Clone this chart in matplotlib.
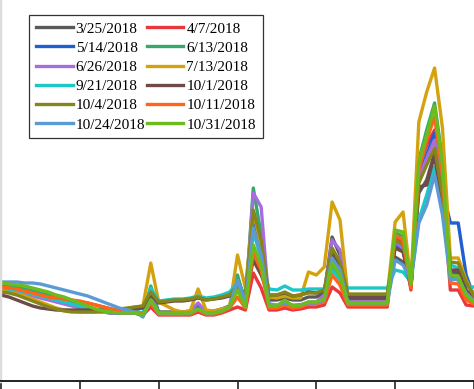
import matplotlib
matplotlib.use("Agg")
import matplotlib.pyplot as plt

# x positions (sample index), ticks every 10
x = list(range(61))

labels = ["3/25/2018", "4/7/2018", "5/14/2018", "6/13/2018", "6/26/2018", "7/13/2018",
          "9/21/2018", "10/1/2018", "10/4/2018", "10/11/2018", "10/24/2018", "10/31/2018"]

colors = ["#595959", "#e8383d", "#1f5fcf", "#35a86a", "#a46ee0", "#d4a20f",
          "#1cc7c7", "#6e4a4a", "#85851a", "#ff6419", "#5b9bd5", "#6cbc1e"]

s_0325 = [92, 91, 90, 88, 86, 84, 82, 80, 78, 76, 74, 72, 70, 69, 68, 68, 68, 68, 66,
          91,
          69, 69, 69, 69, 70, 75, 70, 70, 72, 75,
          103, 81, 161, 131, 81, 81, 83, 81, 81, 84, 84, 88, 144, 126, 82,
          82, 82, 82, 82, 82,
          124, 119, 96, 188, 201, 228, 176, 109, 108, 89, 81]
s_0407 = [93, 92, 91, 90, 89, 87, 85, 83, 81, 80, 79, 78, 76, 74, 72, 70, 69, 68, 66,
          74,
          66, 66, 66, 66, 66, 69, 66, 66, 68, 71,
          74, 71, 108, 93, 71, 71, 73, 71, 72, 74, 74, 76, 94, 88, 74,
          74, 74, 74, 74, 74,
          144, 139, 91, 213, 236, 251, 196, 91, 91, 76, 75]
s_0514 = [93, 92, 91, 89, 87, 85, 83, 81, 79, 77, 75, 73, 71, 70, 69, 68, 68, 68, 66,
          83,
          68, 68, 68, 68, 68, 73, 68, 68, 70, 74,
          94, 76, 157, 126, 76, 75, 77, 75, 76, 78, 78, 81, 126, 113, 78,
          78, 78, 78, 78, 78,
          136, 131, 95, 206, 226, 248, 191, 158, 158, 106, 84]
s_0613 = [96, 95, 94, 92, 90, 88, 86, 83, 80, 77, 74, 72, 70, 69, 68, 68, 68, 68, 66,
          95,
          67, 67, 67, 67, 67, 72, 67, 67, 70, 74,
          106, 76, 193, 146, 74, 74, 79, 74, 75, 78, 78, 81, 114, 103, 77,
          77, 77, 77, 77, 77,
          148, 145, 96, 221, 251, 278, 221, 103, 101, 84, 78]
s_0626 = [91, 90, 89, 87, 85, 83, 81, 79, 77, 75, 73, 71, 70, 69, 68, 68, 68, 68, 66,
          84,
          67, 67, 67, 67, 70, 78, 69, 68, 70, 74,
          99, 77, 188, 174, 76, 75, 78, 75, 76, 79, 79, 86, 141, 131, 79,
          79, 79, 79, 79, 79,
          139, 133, 95, 203, 223, 241, 191, 106, 104, 86, 79]
s_0713 = [90, 89, 87, 85, 82, 79, 76, 73, 71, 70, 69, 69, 69, 69, 70, 71, 72, 74, 75,
          118,
          79, 75, 71, 69, 70, 92, 71, 70, 72, 74,
          126, 93, 169, 136, 84, 83, 85, 83, 83, 109, 106, 114, 179, 161, 86,
          86, 86, 86, 86, 86,
          159, 169, 98, 259, 289, 313, 253, 123, 123, 101, 86]
s_0921 = [93, 92, 91, 89, 87, 85, 83, 81, 79, 77, 75, 73, 72, 71, 70, 70, 70, 70, 68,
          93,
          80, 81, 82, 82, 83, 85, 83, 84, 86, 89,
          98, 86, 149, 123, 92, 91, 95, 91, 91, 92, 92, 92, 111, 101, 93,
          93, 93, 93, 93, 93,
          111, 109, 99, 161, 186, 214, 171, 116, 113, 94, 94]
s_1001 = [86, 84, 81, 78, 75, 73, 72, 71, 71, 71, 71, 71, 71, 71, 71, 71, 71, 72, 73,
          86,
          78, 79, 80, 80, 81, 83, 81, 82, 83, 85,
          89, 83, 121, 106, 86, 86, 88, 85, 86, 89, 88, 90, 128, 113, 84,
          84, 84, 84, 84, 84,
          133, 129, 94, 194, 196, 226, 176, 111, 111, 91, 83]
s_1004 = [89, 88, 86, 83, 80, 77, 74, 72, 70, 69, 69, 69, 69, 70, 71, 72, 73, 74, 75,
          89,
          79, 80, 81, 81, 82, 84, 81, 82, 84, 86,
          96, 85, 171, 141, 85, 86, 89, 85, 86, 88, 88, 91, 133, 119, 87,
          87, 87, 87, 87, 87,
          141, 136, 97, 198, 216, 233, 186, 119, 118, 99, 85]
s_1011 = [94, 93, 92, 90, 88, 86, 84, 83, 82, 81, 80, 78, 76, 74, 72, 71, 70, 69, 67,
          78,
          67, 67, 67, 67, 67, 71, 67, 67, 69, 73,
          84, 73, 128, 111, 73, 73, 76, 73, 74, 77, 77, 79, 106, 96, 76,
          76, 76, 76, 76, 76,
          146, 141, 93, 211, 241, 264, 206, 98, 97, 81, 77]
s_1024 = [99, 99, 99, 98, 98, 97, 95, 93, 91, 89, 87, 85, 82, 79, 76, 73, 71, 69, 64,
          81,
          68, 68, 68, 68, 68, 72, 68, 68, 70, 74,
          101, 78, 153, 126, 77, 76, 78, 76, 76, 78, 78, 81, 123, 111, 78,
          78, 78, 78, 78, 78,
          121, 116, 101, 158, 176, 206, 166, 101, 102, 88, 80]
s_1031 = [98, 97, 96, 95, 93, 91, 89, 86, 84, 81, 78, 75, 72, 70, 69, 68, 68, 68, 66,
          81,
          68, 68, 68, 68, 68, 72, 68, 68, 70, 74,
          91, 74, 136, 116, 75, 75, 81, 75, 76, 79, 79, 82, 118, 106, 78,
          78, 78, 78, 78, 78,
          151, 149, 97, 218, 246, 275, 216, 106, 105, 86, 79]

series = [s_0325, s_0407, s_0514, s_0613, s_0626, s_0713,
          s_0921, s_1001, s_1004, s_1011, s_1024, s_1031]

W, H = 474, 389
fig = plt.figure(figsize=(W / 100, H / 100), dpi=100)
ax = fig.add_axes([0, 8 / H, 1, 381 / H])

lines = []
for vals, lab, col in zip(series, labels, colors):
    ln, = ax.plot(x, vals, color=col, linewidth=2.4, label=lab)
    lines.append(ln)

ax.set_xlim(-0.13, 60.0)
ax.set_ylim(0, 381)
ax.set_xticks(range(0, 61, 10))
ax.set_xticklabels([])
ax.set_yticks([])
ax.tick_params(axis="x", direction="out", length=6, width=1.2, color="#222222")
ax.spines["top"].set_visible(False)
ax.spines["right"].set_visible(False)
ax.spines["bottom"].set_linewidth(1.4)
ax.spines["bottom"].set_color("#222222")
ax.spines["left"].set_color("#dddddd")
ax.spines["left"].set_linewidth(2.5)

# legend reads row by row, matplotlib fills columns first
order = list(range(0, 12, 2)) + list(range(1, 12, 2))
leg = ax.legend([lines[i] for i in order], [labels[i] for i in order],
                loc="upper left", bbox_to_anchor=(29 / W, 1 - 15 / 381),
                ncol=2, fancybox=False, framealpha=1, edgecolor="#333333",
                prop={"family": "Liberation Serif", "size": 11},
                handlelength=2.4, handletextpad=0.2, columnspacing=0.1,
                labelspacing=0.36, borderpad=0.45, borderaxespad=0)
leg.get_frame().set_linewidth(0.9)

fig.savefig("out.png", dpi=100)
